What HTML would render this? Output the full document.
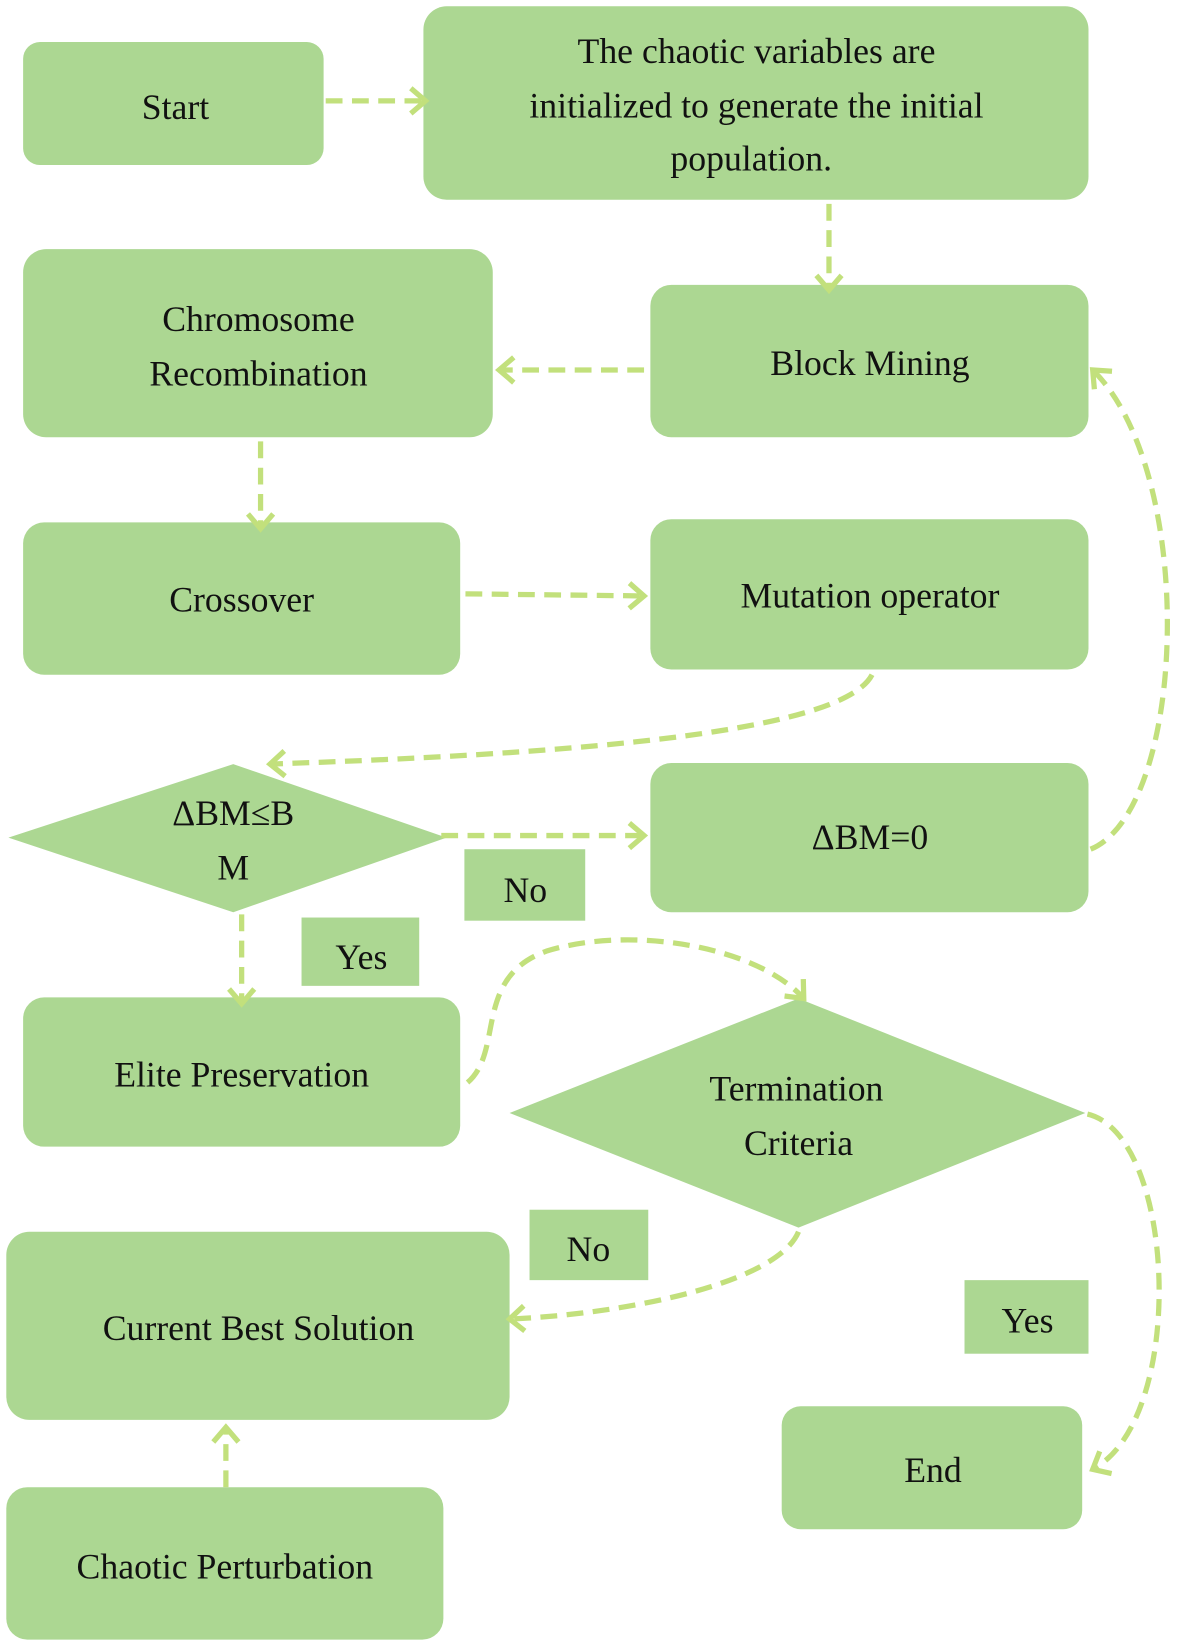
<!DOCTYPE html>
<html><head><meta charset="utf-8"><style>
html,body{margin:0;padding:0;background:#fff;}
svg{display:block;}
text{font-family:"Liberation Serif",serif;font-size:34px;fill:#111;text-anchor:middle;}
</style></head><body>
<svg width="1182" height="1648" viewBox="0 0 1125 1568" preserveAspectRatio="none" xmlns="http://www.w3.org/2000/svg">
<defs>
<marker id="a" markerUnits="userSpaceOnUse" markerWidth="40" markerHeight="40" refX="20" refY="20" orient="auto">
<path d="M6,8 L20,20 L6,32" fill="none" stroke="#c2e07c" stroke-width="5"/>
</marker>
</defs>
<g fill="#acd792">
<rect x="22" y="40" width="286" height="117" rx="16"/>
<rect x="403" y="6" width="633" height="184" rx="22"/>
<rect x="22" y="237" width="447" height="179" rx="22"/>
<rect x="619" y="271" width="417" height="145" rx="20"/>
<rect x="22" y="497" width="416" height="145" rx="20"/>
<rect x="619" y="494" width="417" height="143" rx="20"/>
<polygon points="8,797 222,727 425,797 222,868"/>
<rect x="619" y="726" width="417" height="142" rx="20"/>
<rect x="442" y="808" width="115" height="68"/>
<rect x="287" y="873" width="112" height="65"/>
<rect x="22" y="949" width="416" height="142" rx="20"/>
<polygon points="485,1059 760,950 1033,1059 760,1168"/>
<rect x="504" y="1151" width="113" height="67"/>
<rect x="6" y="1172" width="479" height="179" rx="22"/>
<rect x="918" y="1218" width="118" height="70"/>
<rect x="744" y="1338" width="286" height="117" rx="18"/>
<rect x="6" y="1415" width="416" height="145" rx="20"/>
</g>
<g fill="none" stroke="#c2e07c" stroke-width="5" stroke-dasharray="16 9" marker-end="url(#a)">
<path d="M310,96 L405,96"/>
<path d="M789,194 L789,276"/>
<path d="M613,352 L475,352"/>
<path d="M248,420 L248,503"/>
<path d="M443,565 L613,567"/>
<path d="M830,642 C800,700 520,718 257,727"/>
<path d="M420,795 L613,795"/>
<path d="M1038,808 C1130,770 1140,450 1040,352"/>
<path d="M230,870 L230,955"/>
<path d="M445,1030 C480,1000 450,930 520,905 C600,880 720,900 765,950"/>
<path d="M760,1172 C740,1220 600,1250 485,1255"/>
<path d="M1035,1060 C1120,1080 1130,1350 1040,1398"/>
<path d="M215,1415 L215,1358"/>
</g>
<text x="167" y="113">Start</text>
<text x="720" y="60">The chaotic variables are</text>
<text x="720" y="112">initialized to generate the initial</text>
<text x="715" y="162">population.</text>
<text x="246" y="315">Chromosome</text>
<text x="246" y="367">Recombination</text>
<text x="828" y="357">Block Mining</text>
<text x="230" y="582">Crossover</text>
<text x="828" y="578">Mutation operator</text>
<text x="222" y="785">ΔBM≤B</text>
<text x="222" y="837">M</text>
<text x="828" y="808">ΔBM=0</text>
<text x="500" y="858">No</text>
<text x="344" y="922">Yes</text>
<text x="230" y="1034">Elite Preservation</text>
<text x="758" y="1047">Termination</text>
<text x="760" y="1099">Criteria</text>
<text x="560" y="1200">No</text>
<text x="246" y="1275">Current Best Solution</text>
<text x="978" y="1268">Yes</text>
<text x="888" y="1410">End</text>
<text x="214" y="1502">Chaotic Perturbation</text>
</svg>
</body></html>
